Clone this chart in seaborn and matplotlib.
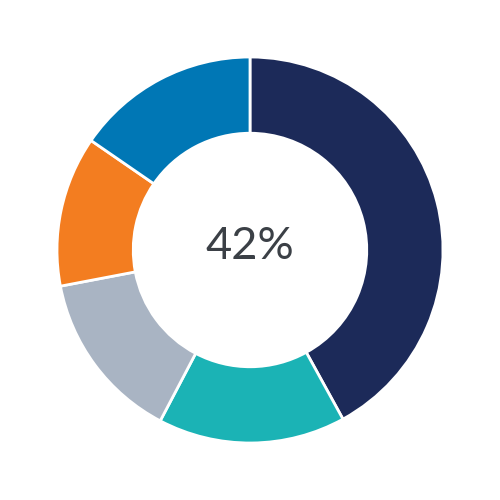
import matplotlib
matplotlib.use("Agg")
import matplotlib.pyplot as plt
import seaborn as sns

# donut shares, clockwise from 12 o'clock
segments = ["A", "B", "C", "D", "E"]
shares = [42, 15.7, 14.3, 12.6, 15.4]
seg_colors = ["#1c2a59", "#1bb3b5", "#a9b4c3", "#f37d20", "#0077b5"]
center_label = "42%"

sns.set_theme(style="white")
plt.rcParams['font.family'] = ['Lato', 'DejaVu Sans']

fig = plt.figure(figsize=(5, 5), dpi=100)
ax = fig.add_axes([0, 0, 1, 1])
ax.pie(shares, colors=sns.color_palette(seg_colors), startangle=90, counterclock=False,
       radius=1.0, wedgeprops=dict(width=0.395, edgecolor="white", linewidth=2))
ax.text(0, 0.02, center_label, ha="center", va="center", fontsize=32.5,
        color="#3b4046", fontweight="normal")
lim = 250 / 193
ax.set_xlim(-lim, lim)
ax.set_ylim(-lim, lim)
ax.set_aspect("equal")
ax.axis("off")
fig.savefig("out.png", dpi=100, facecolor="white")
